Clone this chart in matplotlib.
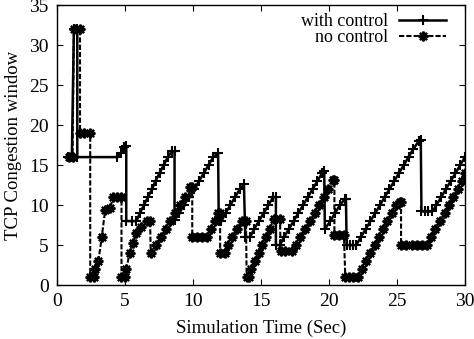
import matplotlib
matplotlib.use("Agg")
import matplotlib.pyplot as plt

# with control (solid, '+')
t_ctrl = [0.85, 1.1, 1.25, 1.5, 1.5, 4.4, 4.7, 4.95, 5.1, 5.1, 5.5, 5.85,
          6.1, 6.4, 6.7, 7.0, 7.25, 7.55, 7.85, 8.15, 8.45, 8.65, 8.65,
          9.0, 9.35, 9.7, 10.1, 10.45, 10.8, 11.15, 11.5, 11.85, 11.9,
          12.1, 12.4, 12.75, 13.1, 13.45, 13.75, 13.85,
          14.2, 14.5, 14.85, 15.2, 15.55, 15.9, 16.1, 16.1,
          16.4, 16.7, 17.05, 17.4, 17.75, 18.1, 18.45, 18.8, 19.15, 19.5, 19.65, 19.7,
          20.1, 20.45, 20.8, 21.15, 21.25, 21.3, 21.55, 21.8, 22.0,
          22.35, 22.7, 23.05, 23.4, 23.75, 24.1, 24.45, 24.8, 25.15, 25.5, 25.85, 26.2, 26.6, 26.75, 26.8,
          27.05, 27.3, 27.6, 27.9, 28.25, 28.6, 28.95, 29.3, 29.65, 30.0]
w_ctrl = [16, 16, 32, 32, 16, 16, 16.5, 17.3, 17.4, 8, 8, 8,
          9, 10, 11, 12, 13, 14, 15, 16, 16.7, 16.7, 8.1,
          9, 10, 11, 12, 13, 14, 15, 16, 16.5, 8,
          8, 9, 10, 11, 12, 12.6, 6,
          6, 7, 8, 9, 10, 11, 11, 5,
          5, 6, 7, 8, 9, 10, 11, 12, 13, 14, 14.3, 7,
          8, 9, 10, 10.7, 10.7, 5, 5, 5, 5,
          6, 7, 8, 9, 10, 11, 12, 13, 14, 15, 16, 17, 18, 18.1, 9.2,
          9.2, 9.2, 9.2, 10, 11, 12, 13, 14, 15, 16]

# no control (dashed, asterisk)
t_noctrl = [0.9, 1.15, 1.25, 1.7, 1.7, 2.0, 2.45, 2.45, 2.7, 2.8, 3.05, 3.3, 3.55, 3.9,
            4.15, 4.45, 4.75, 4.75, 5.0, 5.1, 5.35, 5.6, 5.85, 6.2, 6.6, 6.85, 6.9,
            7.3, 7.65, 8.0, 8.35, 8.7, 9.05, 9.4, 9.8, 9.95, 9.95,
            10.3, 10.65, 11.0, 11.3, 11.6, 11.85, 12.0, 12.0, 12.35,
            12.6, 12.9, 13.25, 13.6, 13.9, 13.95, 14.15,
            14.3, 14.6, 14.85, 15.1, 15.35, 15.65, 15.95, 16.4, 16.45, 16.8, 17.25,
            17.55, 17.9, 18.25, 18.6, 18.95, 19.3, 19.6, 19.95, 20.3, 20.4, 20.4,
            20.75, 21.1, 21.2, 21.5, 21.8, 22.1,
            22.4, 22.7, 23.0, 23.35, 23.7, 24.0, 24.3, 24.6, 24.9, 25.2, 25.3, 25.3,
            25.7, 26.1, 26.5, 26.85, 27.2,
            27.5, 27.8, 28.15, 28.5, 28.85, 29.15, 29.45, 29.75, 30.0]
w_noctrl = [16, 16, 32, 32, 19, 19, 19, 1, 1, 2, 3, 6, 9.4, 9.6,
            11, 11, 11, 1, 1, 2, 4, 5.2, 6.5, 7.3, 8, 8, 4,
            5, 6, 7, 8, 9, 10, 11, 12.3, 12.3, 6,
            6, 6, 6, 7, 8, 9, 9, 4, 4,
            5, 6, 7, 8, 8, 1, 1,
            2, 3, 4, 5, 6, 7, 8.3, 8.3, 4.2, 4.2, 4.2,
            5, 6, 7, 8, 9, 10, 11, 12, 13.1, 13.1, 6.3,
            6.3, 6.3, 1, 1, 1, 1,
            2, 3, 4, 5, 6, 7, 8, 9, 10, 10.4, 10.4, 5,
            5, 5, 5, 5, 5,
            6, 7, 8, 9, 10, 11, 12, 13, 14]

x_ticks = [0, 5, 10, 15, 20, 25, 30]
y_ticks = [0, 5, 10, 15, 20, 25, 30, 35]

plt.rcParams['font.family'] = ['Liberation Serif', 'DejaVu Serif']
fig = plt.figure(figsize=(4.74, 3.39), dpi=100)
ax = fig.add_axes([0.120, 0.159, 0.861, 0.826])

ax.plot(t_ctrl, w_ctrl, color='black', lw=1.8, ls='-', marker='+', ms=7, mew=1.5,
        label='with control')
ax.plot(t_noctrl, w_noctrl, color='black', lw=1.5, ls=(0, (2.5, 1.0)), marker=(8, 2, 0),
        ms=7, mew=1.6, label='no control')

ax.set_xlim(0, 30)
ax.set_ylim(0, 35)
ax.set_xticks(x_ticks)
ax.set_yticks(y_ticks)
ax.tick_params(direction='in', top=True, right=True, length=4, labelsize=14, pad=6)
ax.set_xlabel('Simulation Time (Sec)', fontsize=13.5, labelpad=7)
ax.set_ylabel('TCP Congestion window', fontsize=13.5, labelpad=5)
for s in ax.spines.values():
    s.set_linewidth(1.0)

ax.legend(loc='upper right', bbox_to_anchor=(0.972, 0.998), frameon=False,
          markerfirst=False, fontsize=13, handlelength=2.6, numpoints=1,
          borderaxespad=0.0, labelspacing=-0.03, handletextpad=0.6)

fig.savefig('out.png', dpi=100)
